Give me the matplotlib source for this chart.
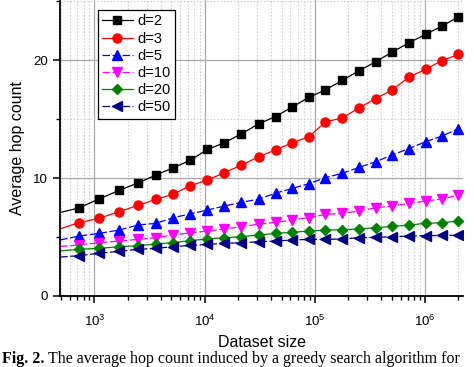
import matplotlib
matplotlib.use("Agg")
import matplotlib.pyplot as plt
from matplotlib.ticker import LogLocator, MultipleLocator, NullFormatter

plt.rcParams['font.family'] = ['Liberation Sans', 'DejaVu Sans']
plt.rcParams['mathtext.fontset'] = 'custom'
plt.rcParams['mathtext.rm'] = 'Liberation Sans'
plt.rcParams['mathtext.it'] = 'Liberation Sans'

# dataset sizes
sizes = [720, 1100, 1680, 2480, 3610, 5190, 7410, 10600, 15100, 21600, 31000,
         44000, 62400, 88100, 125000, 177000, 251000, 356000, 506000, 716000,
         1010000, 1420000, 2010000]
# the lines run in from the left edge of the axis
lead_size = 490
lead_hops = [7.08, 5.7, 4.75, 4.2, 3.82, 3.3]

hops_d2 = [7.46, 8.22, 8.96, 9.58, 10.25, 10.87, 11.5, 12.43, 12.99, 13.75, 14.6, 15.22,
           16.02, 16.84, 17.48, 18.28, 19.09, 19.86, 20.70, 21.47, 22.18, 22.88, 23.67]
hops_d3 = [6.21, 6.58, 7.15, 7.68, 8.19, 8.64, 9.35, 9.83, 10.45, 11.1, 11.8, 12.4,
           12.99, 13.5, 14.76, 15.1, 15.93, 16.74, 17.48, 18.58, 19.21, 19.96, 20.48]
hops_d5 = [5.08, 5.31, 5.59, 6.02, 6.16, 6.64, 6.96, 7.29, 7.63, 7.94, 8.22, 8.72,
           9.12, 9.52, 10.04, 10.4, 10.9, 11.38, 11.97, 12.5, 13.08, 13.56, 14.18]
hops_d10 = [4.32, 4.52, 4.66, 4.8, 4.94, 5.17, 5.36, 5.51, 5.68, 5.87, 6.1, 6.24,
            6.44, 6.64, 6.92, 7.0, 7.2, 7.48, 7.63, 7.85, 8.05, 8.22, 8.56]
hops_d20 = [3.96, 4.04, 4.18, 4.26, 4.41, 4.52, 4.7, 4.83, 4.94, 5.03, 5.17, 5.31,
            5.4, 5.51, 5.59, 5.62, 5.68, 5.79, 5.9, 6.02, 6.16, 6.21, 6.36]
hops_d50 = [3.42, 3.62, 3.79, 3.96, 4.04, 4.18, 4.29, 4.38, 4.46, 4.52, 4.6, 4.66,
            4.75, 4.8, 4.8, 4.83, 4.94, 4.97, 5.03, 5.08, 5.11, 5.14, 5.14]

labels = ["d=2", "d=3", "d=5", "d=10", "d=20", "d=50"]
series = [hops_d2, hops_d3, hops_d5, hops_d10, hops_d20, hops_d50]
colors = ['black', 'red', 'blue', 'magenta', 'green', 'navy']
markers = ['s', 'o', '^', 'v', 'D', '<']
msizes = [5.5, 6.5, 7, 7, 5.5, 7]
dashed = [False, False, True, True, False, True]

fig = plt.figure(figsize=(4.74, 3.67), dpi=100)
ax = fig.add_axes([60 / 474, 71 / 367, 403 / 474, 296 / 367])

for i in range(len(series)):
    xs = [lead_size] + sizes
    ys = [lead_hops[i]] + series[i]
    ls = (0, (6, 2)) if dashed[i] else '-'
    ax.plot(xs, ys, color=colors[i], lw=0.9, linestyle=ls, marker=markers[i],
            markersize=msizes[i], markevery=list(range(1, len(xs))),
            label=labels[i])

ax.set_xscale('log')
ax.set_xlim(488, 2.21e6)
ax.set_ylim(0, 25.1)

ax.xaxis.set_major_locator(LogLocator(base=10, numticks=10))
ax.xaxis.set_minor_locator(LogLocator(base=10, subs=range(2, 10), numticks=20))
ax.xaxis.set_minor_formatter(NullFormatter())
ax.yaxis.set_major_locator(MultipleLocator(10))
ax.yaxis.set_minor_locator(MultipleLocator(5))

ax.grid(True, which='major', color='#a8a8a8', lw=0.9, ls='-')
ax.grid(True, which='minor', color='#d2d2d2', lw=0.8, ls=(0, (1.5, 1.5)))
ax.set_axisbelow(True)

ax.spines['top'].set_visible(False)
ax.spines['right'].set_visible(False)
ax.spines['left'].set_linewidth(1.3)
ax.spines['bottom'].set_linewidth(1.3)
ax.tick_params(which='major', direction='out', length=5, width=1.1, labelsize=9.5)
ax.tick_params(axis='x', which='major', pad=8)
ax.tick_params(which='minor', direction='out', length=2.8, width=1.0)

ax.set_xlabel("Dataset size", fontsize=11.5, labelpad=4)
ax.set_ylabel("Average hop count", fontsize=11.5, labelpad=6)

leg = ax.legend(loc='upper left', bbox_to_anchor=(0.0935, 0.966), borderaxespad=0,
                fontsize=10.5, fancybox=False, framealpha=1, edgecolor='black',
                handlelength=2.1, handletextpad=0.3, labelspacing=0.22,
                borderpad=0.3, numpoints=1)
leg.get_frame().set_linewidth(0.9)

cap_font = ['Liberation Serif', 'DejaVu Serif']
fig.text(0.004, 0.0, "Fig. 2.", family=cap_font, fontsize=11.5,
         fontweight='bold', va='bottom', ha='left')
fig.text(0.101, 0.0, "The average hop count induced by a greedy search algorithm for",
         family=cap_font, fontsize=11.5, va='bottom', ha='left')

fig.savefig('out.png', dpi=100)
